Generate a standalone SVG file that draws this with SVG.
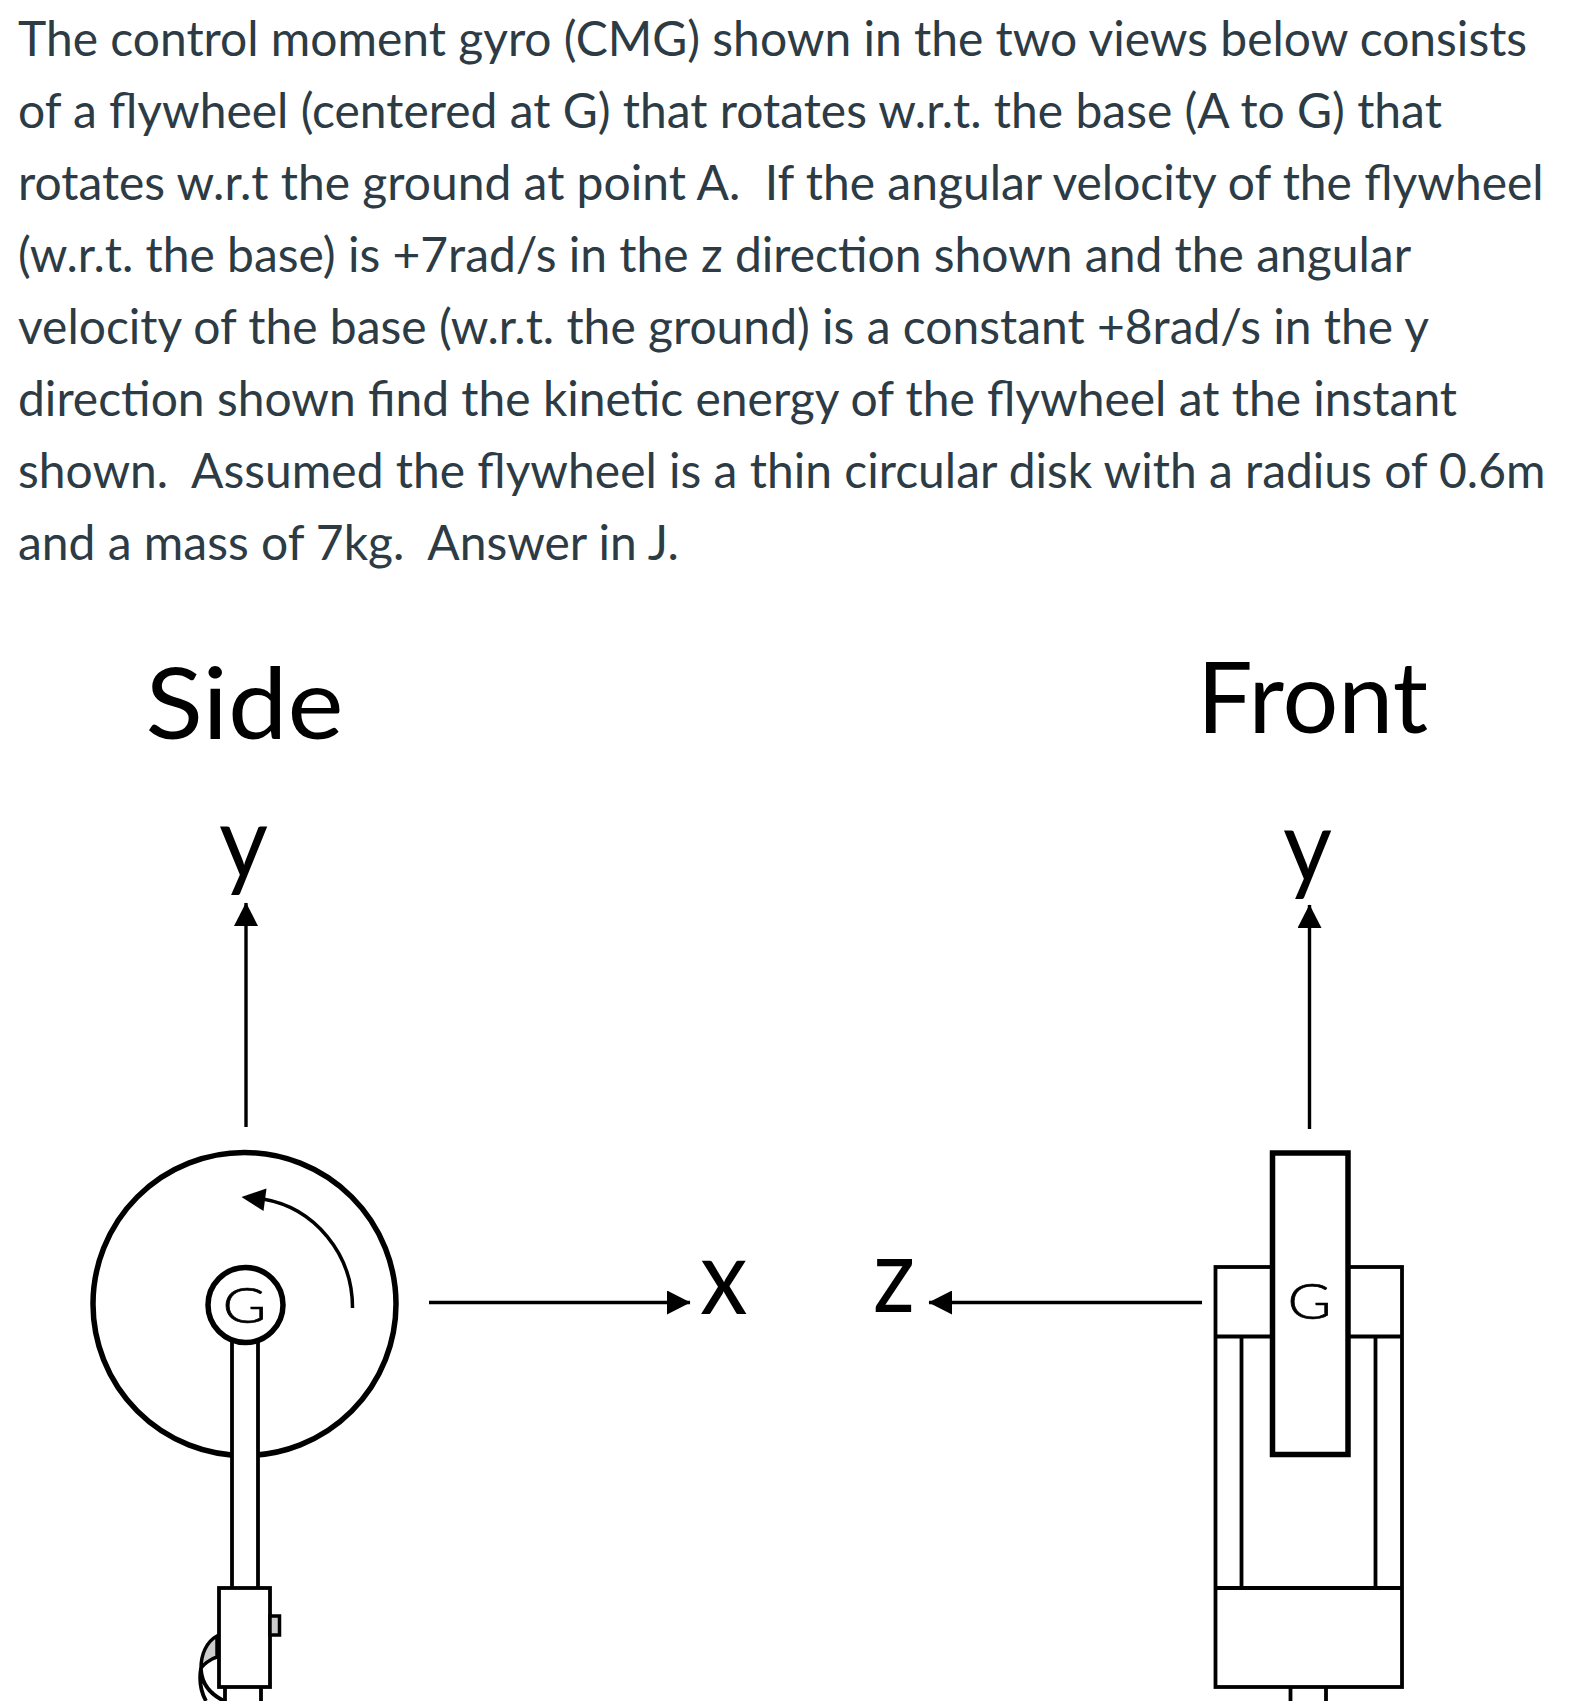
<svg xmlns="http://www.w3.org/2000/svg" width="1569" height="1701" viewBox="0 0 1569 1701">
<style>
.body{font-family:"Lato","Liberation Sans",sans-serif;font-size:47.98px;fill:#2d3b45;white-space:pre}
.lab{font-family:"Lato","Liberation Sans",sans-serif;fill:#000}
.g{font-weight:300;stroke:#000;stroke-width:.7}
.thin{fill:none;stroke:#000;stroke-width:3.8}
.box{fill:#fff;stroke:#000;stroke-width:3.8}
.fly{fill:#fff;stroke:#000;stroke-width:5.5}
.ax{fill:none;stroke:#000;stroke-width:3.4}
</style>
<defs>
<marker id="ah" markerUnits="userSpaceOnUse" markerWidth="24" markerHeight="24" refX="23" refY="12" orient="auto"><path d="M0 0L23.500 12L0 24Z" fill="#000"/></marker>
</defs>
<rect width="1569" height="1701" fill="#fff"/>
<g id="question">
<text class="body" x="18" y="56">The control moment gyro (CMG) shown in the two views below consists</text>
<text class="body" x="18" y="128">of a flywheel (centered at G) that rotates w.r.t. the base (A to G) that</text>
<text class="body" x="18" y="200">rotates w.r.t the ground at point A.  If the angular velocity of the flywheel</text>
<text class="body" x="18" y="272">(w.r.t. the base) is +7rad/s in the z direction shown and the angular</text>
<text class="body" x="18" y="344">velocity of the base (w.r.t. the ground) is a constant +8rad/s in the y</text>
<text class="body" x="18" y="416">direction shown find the kinetic energy of the flywheel at the instant</text>
<text class="body" x="18" y="488">shown.  Assumed the flywheel is a thin circular disk with a radius of 0.6m</text>
<text class="body" x="18" y="560">and a mass of 7kg.  Answer in J.</text>
</g>
<g id="connectors">
<path class="ax" d="M246 1127V903" marker-end="url(#ah)"/>
<path class="ax" d="M1309.500 1129V905" marker-end="url(#ah)"/>
<path class="ax" d="M429 1302.500H690" marker-end="url(#ah)"/>
<path class="ax" d="M1202 1302.500H929" marker-end="url(#ah)"/>
</g>
<g id="side-view">
<text class="lab" x="145.500" y="739" font-size="98" textLength="198" lengthAdjust="spacingAndGlyphs">Side</text>
<text class="lab" x="219" y="877.500" font-size="100" textLength="49" lengthAdjust="spacingAndGlyphs">y</text>
<text class="lab" x="700" y="1314" font-size="105" textLength="47.500" lengthAdjust="spacingAndGlyphs">x</text>
<g id="flywheel-side">
<circle class="fly" cx="244.500" cy="1304" r="151.500"/>
<path d="M352.500 1308A107 110 0 0 0 263 1199" fill="none" stroke="#000" stroke-width="3.500"/>
<path d="M241.500 1197L266.500 1188.500L263.500 1211Z" fill="#000"/>
</g>
<g id="base-side">
<path d="M225 1701V1680M261 1701V1680" class="thin"/>
<path d="M217 1636C206 1642 201 1655 201 1668C203 1665 210 1659 217 1657Z" fill="#ccc" stroke="#000" stroke-width="3.500"/>
<path d="M201 1668C199 1680 201 1692 206 1701M201 1670C202 1685 212 1695 224 1701" class="thin"/>
<rect class="box" x="232" y="1320" width="26" height="270"/>
<rect class="box" x="219" y="1588" width="51" height="99"/>
<rect x="270" y="1616" width="9.500" height="19" fill="#ccc" stroke="#000" stroke-width="3.500"/>
</g>
<g id="hub">
<circle class="fly" cx="245.500" cy="1305" r="37.500"/>
<text class="lab g" x="244.500" y="1323" font-size="50" text-anchor="middle" textLength="44" lengthAdjust="spacingAndGlyphs">G</text>
</g>
</g>
<g id="front-view">
<text class="lab" x="1197" y="733" font-size="98" textLength="231" lengthAdjust="spacingAndGlyphs">Front</text>
<text class="lab" x="1283" y="881.500" font-size="100" textLength="49" lengthAdjust="spacingAndGlyphs">y</text>
<text class="lab" x="873" y="1312" font-size="105" textLength="42" lengthAdjust="spacingAndGlyphs">z</text>
<g id="base-front">
<path class="thin" d="M1290.500 1701V1687M1326 1701V1687"/>
<rect class="box" x="1215.500" y="1267" width="186.500" height="420"/>
<path class="thin" d="M1215.500 1336.500H1402M1215.500 1588H1402M1241.500 1336.500V1588M1375.500 1336.500V1588"/>
</g>
<g id="flywheel-front">
<rect class="fly" x="1272.500" y="1153" width="75.500" height="301.500"/>
<text class="lab g" x="1309.500" y="1319" font-size="50" text-anchor="middle" textLength="44" lengthAdjust="spacingAndGlyphs">G</text>
</g>
</g>
</svg>
